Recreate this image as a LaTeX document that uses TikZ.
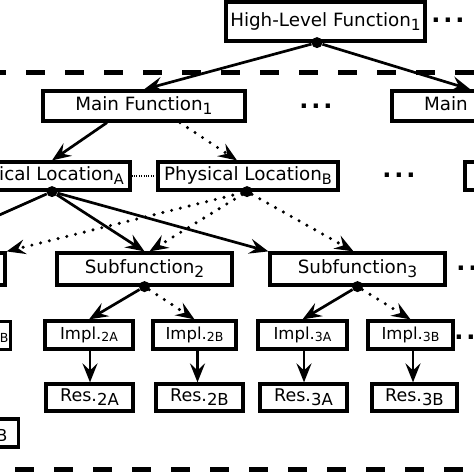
\documentclass[tikz,border=0pt]{standalone}
\usepackage{fontspec}
\setmainfont{DejaVu Sans}
\usetikzlibrary{arrows.meta,calc}
\newcommand\lsub[3]{\raisebox{-#2}{\fontsize{#1}{#1}\selectfont #3}}
\newcommand\threedots{.\kern2.9pt.\kern2.9pt.}
\begin{document}
\begin{tikzpicture}[x=1pt,y=-1pt,
  box/.style={draw,line width=3.2pt,inner sep=0pt,fill=white,font=\fontsize{18.3}{20}\selectfont},
  sbox/.style={box,font=\fontsize{16.5}{18}\selectfont},
  rbox/.style={box,font=\fontsize{17.5}{19}\selectfont},
  con/.style={line width=2.7pt,-{Stealth[length=19pt,width=15pt,inset=7pt]}},
  dcon/.style={con,line width=3.4pt,dash pattern=on 0pt off 9pt,line cap=round,
    -{Stealth[length=19pt,width=15pt,inset=7pt,line width=0pt]}},
  hub/.style={circle,fill,inner sep=0pt,minimum size=11pt},
  sep/.style={line width=5pt,dash pattern=on 19pt off 20pt},
  ell/.style={inner sep=0pt,font=\bfseries\fontsize{24}{24}\selectfont}
]
\useasboundingbox (0,0) rectangle (474,474);
\clip (0,0) rectangle (474,474);

% separators
\draw[sep] (-13,72) -- (480,72);
\draw[sep] (15,469) -- (480,469);

% level 1
\node[box,minimum width=199pt,minimum height=39pt] (hlf) at (325.5,21.5) {High-Level Function\lsub{15.5}{4pt}{1}};
\node[ell] (e1) at (448,20) {\threedots};

% level 2
\node[box,minimum width=202pt,minimum height=30pt] (mf1) at (144,106) {Main Function\lsub{15.5}{4pt}{1}};
\node[box,minimum width=202pt,minimum height=30pt,text width=138pt,align=left] (mfn) at (493,106) {Main\vphantom{Function\lsub{15.5}{4pt}{1}}};
\node[ell] (e2) at (316,106) {\threedots};

% level 3
\node[box,minimum width=180pt,minimum height=28pt] (pla) at (40,176) {Physical Location\lsub{14.5}{4pt}{A}};
\node[box,minimum width=180pt,minimum height=28pt] (plb) at (248,176) {Physical Location\lsub{14.5}{4pt}{B}};
\node[box,minimum width=180pt,minimum height=28pt] (plc) at (555,176) {};
\node[ell] (e3) at (399,175) {\threedots};
\draw[line width=1.5pt,dash pattern=on 1pt off 1.4pt] (pla.east) -- (plb.west);

% level 4
\node[box,minimum width=175pt,minimum height=32pt] (sub1) at (-82.5,269) {Subfunction\lsub{15.5}{4pt}{1}};
\node[box,minimum width=175pt,minimum height=32pt] (sub2) at (144.5,269) {Subfunction\lsub{15.5}{4pt}{2}};
\node[box,minimum width=175pt,minimum height=32pt] (sub3) at (357.5,269) {Subfunction\lsub{15.5}{4pt}{3}};
\node[ell] (e4) at (473,268) {\threedots};

% level 5
\node[sbox,minimum height=28pt,inner xsep=2pt,anchor=east] (i1b) at (12,335.5) {Impl.\lsub{12.5}{2pt}{1B}};
\node[sbox,minimum width=88pt,minimum height=28pt] (i2a) at (89,335) {Impl.\lsub{12.5}{2pt}{2A}};
\node[sbox,minimum width=83pt,minimum height=28pt] (i2b) at (194.5,335) {Impl.\lsub{12.5}{2pt}{2B}};
\node[sbox,minimum width=89pt,minimum height=28pt] (i3a) at (302.5,335) {Impl.\lsub{12.5}{2pt}{3A}};
\node[sbox,minimum width=85pt,minimum height=28pt] (i3b) at (410.5,335) {Impl.\lsub{12.5}{2pt}{3B}};
\node[ell] (e5) at (471,337) {\threedots};

% level 6
\node[rbox,minimum width=87pt,minimum height=27pt] (r2a) at (89.5,397.5) {Res.\lsub{16.5}{4pt}{2A}};
\node[rbox,minimum width=87pt,minimum height=27pt] (r2b) at (199.5,397.5) {Res.\lsub{16.5}{4pt}{2B}};
\node[rbox,minimum width=87pt,minimum height=27pt] (r3a) at (303.5,397.5) {Res.\lsub{16.5}{4pt}{3A}};
\node[rbox,minimum width=85pt,minimum height=27pt] (r3b) at (414.5,397.5) {Res.\lsub{16.5}{4pt}{3B}};
\node[rbox,minimum height=28pt,inner xsep=11pt,anchor=east] (r1b) at (20,433) {Res.\lsub{16.5}{4pt}{1B}};

% hubs
\node[hub] (h0) at ($(hlf.south)+(-8.5,0)$) {};
\node[hub] (ha) at ($(pla.south)+(12,0)$) {};
\node[hub] (hb) at ($(plb.south)+(-1,0)$) {};
\node[hub] (hs2) at (sub2.south) {};
\node[hub] (hs3) at (sub3.south) {};

% connectors
\draw[con] (h0) -- (mf1.north);
\draw[con] (h0) -- ($(mfn.north west)+(80,0)$);
\draw[con] ($(mf1.south)+(-37,0)$) -- ($(pla.north)+(12,0)$);
\draw[dcon] ($(mf1.south)+(36,0)$) -- ($(plb.north)+(-11,0)$);

\draw[con] (ha) -- (sub1.north);
\draw[con] (ha) -- (sub2.north);
\draw[con] (ha) -- (sub3.north west);
\draw[dcon] (hb) -- (sub1.north east);
\draw[dcon] (hb) -- ($(sub2.north)+(5,0)$);
\draw[dcon] (hb) -- ($(sub3.north)+(-4,0)$);

\draw[con] (hs2) -- (i2a.north);
\draw[dcon] (hs2) -- (i2b.north);
\draw[con] (hs3) -- (i3a.north);
\draw[dcon] (hs3) -- (i3b.north);

\draw[con] ($(i2a.south)+(1,0)$) -- ($(i2a.south |- r2a.north)+(1,0)$);
\draw[con] ($(i2b.south)+(3,0)$) -- ($(i2b.south |- r2b.north)+(3,0)$);
\draw[con] ($(i3a.south)+(1.5,0)$) -- ($(i3a.south |- r3a.north)+(1.5,0)$);
\draw[con] ($(i3b.south)+(2.5,0)$) -- ($(i3b.south |- r3b.north)+(2.5,0)$);
\end{tikzpicture}
\end{document}
